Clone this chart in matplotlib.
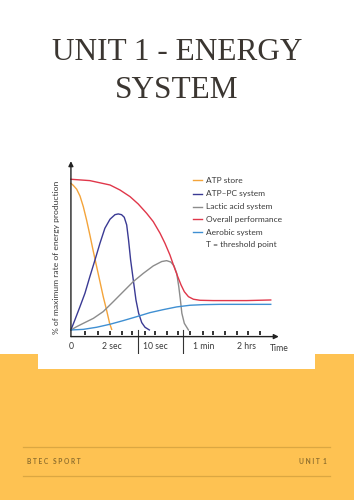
import matplotlib
matplotlib.use("Agg")
import matplotlib.pyplot as plt
from matplotlib.patches import Rectangle
from matplotlib.lines import Line2D

# === DADOS ===
# tempo em unidades do eixo (0 = origem, 100 = seta), taxa em % do maximo
atp_t = [0, 1.1, 2.8, 4.4, 6.0, 7.6, 9.2, 10.9, 12.5, 14.1, 15.7, 17.3, 18.8, 19.8]
atp_y = [97.3, 96.0, 93.4, 88.9, 81.9, 73.0, 63.1, 52.0, 42.0, 32.1, 22.1, 13.3, 4.4, 0.4]

atppc_t = [0, 1.9, 4.4, 6.8, 9.2, 11.7, 14.1, 16.5, 19.0, 21.4, 23.0, 24.6, 25.9,
           27.1, 28.0, 29.0, 30.3, 31.6, 32.9, 34.4, 36.0, 38.1]
atppc_y = [0, 6.6, 15.5, 24.3, 35.4, 46.5, 57.5, 67.5, 73.5, 76.5, 77.0, 76.5, 74.8,
           69.7, 59.7, 46.5, 33.2, 19.9, 11.1, 4.9, 1.8, 0]

lactic_t = [0, 2.8, 6.0, 10.9, 15.7, 20.6, 25.4, 30.3, 35.2, 40.0, 44.1, 46.5, 48.5,
            50.1, 51.4, 52.4, 53.2, 53.9, 55.1, 57.1]
lactic_y = [0, 2.2, 4.4, 7.7, 12.2, 18.8, 25.4, 32.1, 37.6, 42.5, 45.4, 46.0, 45.1,
            42.5, 37.6, 28.8, 19.9, 11.1, 4.4, 0]

overall_t = [0, 9.2, 19.0, 23.8, 28.7, 32.7, 36.8, 40.0, 43.3, 45.7, 48.1, 50.1, 51.9,
             53.5, 55.1, 57.1, 59.5, 62.7, 69.2, 85.4, 97.1]
overall_y = [100, 99.1, 96.2, 92.9, 88.5, 83.6, 77.4, 71.9, 64.2, 57.5, 49.8, 42.0, 35.4,
             29.9, 25.4, 22.1, 20.4, 19.7, 19.5, 19.5, 19.9]

aerobic_t = [0, 6.0, 12.5, 19.0, 25.4, 31.9, 38.4, 44.9, 51.4, 57.9, 64.3, 72.4, 97.1]
aerobic_y = [0, 0.4, 1.8, 3.8, 6.2, 8.8, 11.5, 13.5, 15.3, 16.4, 16.8, 17.0, 17.0]

rotulos_x = ["0", "2 sec", "10 sec", "1 min", "2 hrs"]
pos_x = [0, 19.8, 40.8, 64.3, 85.4]
marcas = [6.8, 13.0, 19.0, 24.6, 29.5, 36.0, 40.8, 46.5, 52.2, 57.8, 64.0, 69.2, 74.8, 80.5, 86.2, 91.9]
limiares = [32.4, 54.3]

legenda = ["ATP store", "ATP\u2013PC system", "Lactic acid system",
           "Overall performance", "Aerobic system"]
cores = ["#f4a43a", "#3a3a94", "#8c8c8c", "#e0374a", "#3f8fd2"]

LARANJA = "#fec252"
TEXTO = "#3a3a3a"

# === FIGURA ===
fig = plt.figure(figsize=(3.54, 5.0), dpi=100)
fig.patch.set_facecolor("white")
W, H = 354, 500

def fy(py):
    return 1 - py / H

fig.patches.append(Rectangle((0, 0), 1, fy(354), transform=fig.transFigure,
                             facecolor=LARANJA, edgecolor="none", zorder=0))
fig.patches.append(Rectangle((38 / W, fy(369)), 277 / W, 15 / H, transform=fig.transFigure,
                             facecolor="white", edgecolor="none", zorder=0))

# titulo
fig.text(0.5, fy(53), "UNIT 1 - ENERGY", ha="center", va="center",
         fontfamily="Liberation Serif", fontsize=22.5, color="#3b3631")
fig.text(0.5, fy(91), "SYSTEM", ha="center", va="center",
         fontfamily="Liberation Serif", fontsize=22.5, color="#3b3631")

# rodape
for py in (447, 476):
    fig.lines.append(Line2D([23 / W, 330 / W], [fy(py), fy(py)], transform=fig.transFigure,
                            color="#dba742", lw=0.9))
fig.text(27 / W, fy(461), "B T E C   S P O R T", ha="left", va="center",
         fontfamily="Lato", fontsize=4.8, color="#8f6f2e", fontweight="bold")
fig.text(327 / W, fy(461), "U N I T  1", ha="right", va="center",
         fontfamily="Lato", fontsize=4.8, color="#8f6f2e", fontweight="bold")

# === GRAFICO ===
ax = fig.add_axes([38 / W, fy(369), 277 / W, 214 / H])
ax.set_facecolor("none")
ax.set_xlim(-16.0, 118.6)
ax.set_ylim(-25.9, 116.1)
ax.axis("off")

fonte = "Lato"
lw = 1.0
ax.plot(atp_t, atp_y, color=cores[0], lw=lw, zorder=3)
ax.plot(atppc_t, atppc_y, color=cores[1], lw=lw, zorder=3)
ax.plot(lactic_t, lactic_y, color=cores[2], lw=lw, zorder=3)
ax.plot(overall_t, overall_y, color=cores[3], lw=lw, zorder=3)
ax.plot(aerobic_t, aerobic_y, color=cores[4], lw=lw, zorder=3)

# eixos com setas
base = -4.4
ax.annotate("", xy=(101, base), xytext=(0, base),
            arrowprops=dict(arrowstyle="-|>", color="#222222", lw=1.0,
                            mutation_scale=7, shrinkA=0, shrinkB=0))
ax.annotate("", xy=(0, 112), xytext=(0, base),
            arrowprops=dict(arrowstyle="-|>", color="#222222", lw=1.0,
                            mutation_scale=7, shrinkA=0, shrinkB=0))

ax.plot(marcas, [-2.2] * len(marcas), ls="none", marker="|", ms=2.2, mew=1.2,
        color="#111111", zorder=4)

for t in limiares:
    ax.plot([t, t], [0, -15.5], color="#333333", lw=0.8)
    ax.text(t, -20.2, "T", ha="center", va="center", fontsize=5.8,
            fontfamily=fonte, color=TEXTO)

for t, r in zip(pos_x, rotulos_x):
    ax.text(t, -10.8, r, ha="center", va="center", fontsize=6.2,
            fontfamily=fonte, color=TEXTO)
ax.text(101.5, -12.0, "Time", ha="center", va="center", fontsize=6.2,
        fontfamily=fonte, color=TEXTO)

ax.text(-7.0, 48.4, "% of maximum rate of energy production", rotation=90,
        ha="center", va="center", fontsize=6.1, fontfamily=fonte, color=TEXTO)

# legenda
ys = [99.5, 90.4, 81.7, 73.4, 64.9]
for y, nome, c in zip(ys, legenda, cores):
    ax.plot([59.3, 63.7], [y, y], color=c, lw=1.0)
    ax.text(65.6, y, nome, ha="left", va="center", fontsize=6.0,
            fontfamily=fonte, color=TEXTO)
ax.text(65.6, 56.4, "T = threshold point", ha="left", va="center", fontsize=6.0,
        fontfamily=fonte, color=TEXTO)

fig.savefig("out.png", dpi=100, facecolor=fig.get_facecolor())
